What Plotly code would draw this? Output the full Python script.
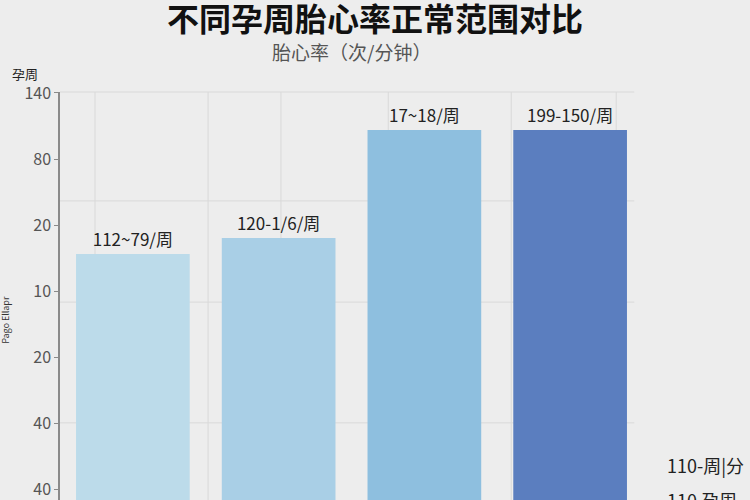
import plotly.graph_objects as go

# 数据
categories = ["12-19周", "20-27周", "28-36周", "37-40周"]
heart_rate = [91.2, 96.1, 128.8, 128.8]
bar_labels = ["112~79/周", "120-1/6/周", "17~18/周", "199-150/周"]
bar_colors = ["#BCDBEA", "#A9CFE6", "#8EBFDF", "#5B7EBF"]

tick_vals = [140, 120, 100, 80, 60, 40, 20]
tick_text = ["140", "80", "20", "10", "20", "40", "40"]

legend_lines = ["110-周|分", "110 孕周"]

FONT = "Noto Sans CJK SC"
BG = "#EDEDED"
GRID = "#D9D9D9"


def grid_shapes():
    shapes = []
    # 横向网格
    for y in [1.0, 0.733, 0.485, 0.189]:
        shapes.append(dict(type="line", xref="paper", yref="paper",
                           x0=0, x1=0.985, y0=y, y1=y, layer="below",
                           line=dict(color=GRID, width=1)))
    # 纵向网格
    for x in [0.060, 0.254, 0.379, 0.563, 0.774, 0.954]:
        shapes.append(dict(type="line", xref="paper", yref="paper",
                           x0=x, x1=x, y0=0, y1=1, layer="below",
                           line=dict(color=GRID, width=1)))
    return shapes


fig = go.Figure(go.Bar(
    x=categories,
    y=heart_rate,
    text=bar_labels,
    textposition="outside",
    cliponaxis=False,
    textfont=dict(family=FONT, size=17, color="#222222"),
    marker=dict(color=bar_colors, line=dict(width=0)),
    hoverinfo="skip",
))

annotations = [
    dict(text="胎心率（次/分钟）", xref="paper", yref="paper", x=0.5, y=1.100,
         xanchor="center", yanchor="middle", showarrow=False,
         font=dict(family=FONT, size=19, color="#555555")),
    dict(text="孕周", xref="paper", yref="paper", x=-0.06, y=1.046,
         xanchor="center", yanchor="middle", showarrow=False,
         font=dict(family=FONT, size=13, color="#222222")),
    dict(text="Pago Ellapr", xref="paper", yref="paper", x=-0.094, y=0.442,
         xanchor="center", yanchor="middle", textangle=-90, showarrow=False,
         font=dict(family=FONT, size=9, color="#333333")),
]
for i, line in enumerate(legend_lines):
    annotations.append(dict(text=line, xref="paper", yref="paper",
                            x=1.038, y=0.086 - i * 0.085,
                            xanchor="left", yanchor="middle",
                            showarrow=False,
                            font=dict(family=FONT, size=18, color="#222222")))

fig.update_layout(
    width=750, height=500,
    margin=dict(l=60, r=107, t=92, b=0),
    paper_bgcolor=BG, plot_bgcolor=BG,
    bargap=0.22,
    showlegend=False,
    title=dict(text="<b>不同孕周胎心率正常范围对比</b>", x=0.5, xanchor="center",
               y=0.96, yanchor="middle", yref="container",
               font=dict(family=FONT, size=32, color="#111111")),
    shapes=grid_shapes(),
    annotations=annotations,
)
fig.update_xaxes(showticklabels=False, showgrid=False, zeroline=False,
                 showline=False, ticks="")
fig.update_yaxes(range=[16.7, 140.3], tickvals=tick_vals, ticktext=tick_text,
                 showgrid=False, zeroline=False, showline=True,
                 linecolor="#8A8A8A", linewidth=1.5,
                 ticks="outside", ticklen=4, tickcolor="#8A8A8A",
                 ticklabeloverflow="allow",
                 tickfont=dict(family=FONT, size=16, color="#555555"))

# 去掉页面默认边距
fig.write_html("out.html",
               config={"displayModeBar": False},
               post_script="document.body.style.margin='0';"
                           "document.body.style.overflow='hidden';"
                           "document.body.style.background='" + BG + "';")
